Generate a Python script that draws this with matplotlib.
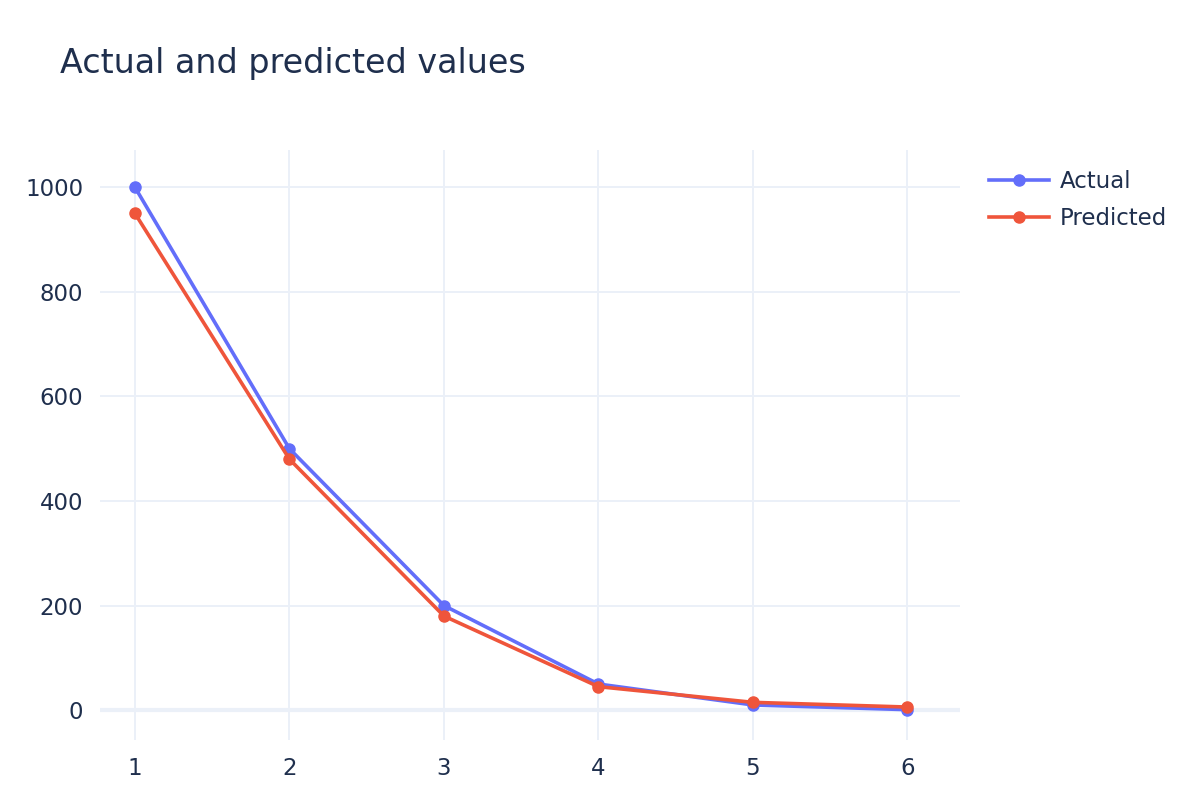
import matplotlib.pyplot as plt

x = [1, 2, 3, 4, 5, 6]
actual = [1000, 500, 200, 50, 10, 1]
predicted = [950, 480, 180, 45, 15, 6]

text_color = "#1f2f4d"
grid_color = "#EBF0F8"

plt.rcParams["font.family"] = ["DejaVu Sans"]

fig = plt.figure(figsize=(12, 8), dpi=100)
ax = fig.add_axes([0.0833, 0.075, 0.7167, 0.7375])

ax.plot(x, actual, color="#636EFA", lw=2.6, marker="o", ms=8, label="Actual", zorder=3)
ax.plot(x, predicted, color="#EF553B", lw=2.6, marker="o", ms=8, label="Predicted", zorder=4)

ax.set_xlim(0.774, 6.34)
ax.set_ylim(-57, 1071)
ax.set_xticks(x)
ax.set_yticks([0, 200, 400, 600, 800, 1000])
ax.grid(True, color=grid_color, lw=1.4)
ax.axhline(0, color=grid_color, lw=3, zorder=1)
ax.set_axisbelow(True)
for s in ax.spines.values():
    s.set_visible(False)
ax.tick_params(length=0, labelsize=16.5, colors=text_color, pad=12)

fig.text(0.05, 0.92, "Actual and predicted values", fontsize=24, color=text_color, va="center")

fig.legend(loc="upper left", bbox_to_anchor=(0.807, 0.813), frameon=False, fontsize=16.5,
           labelcolor=text_color, handlelength=2.6, handletextpad=0.5, labelspacing=0.62)

fig.savefig("out.png", dpi=100)
